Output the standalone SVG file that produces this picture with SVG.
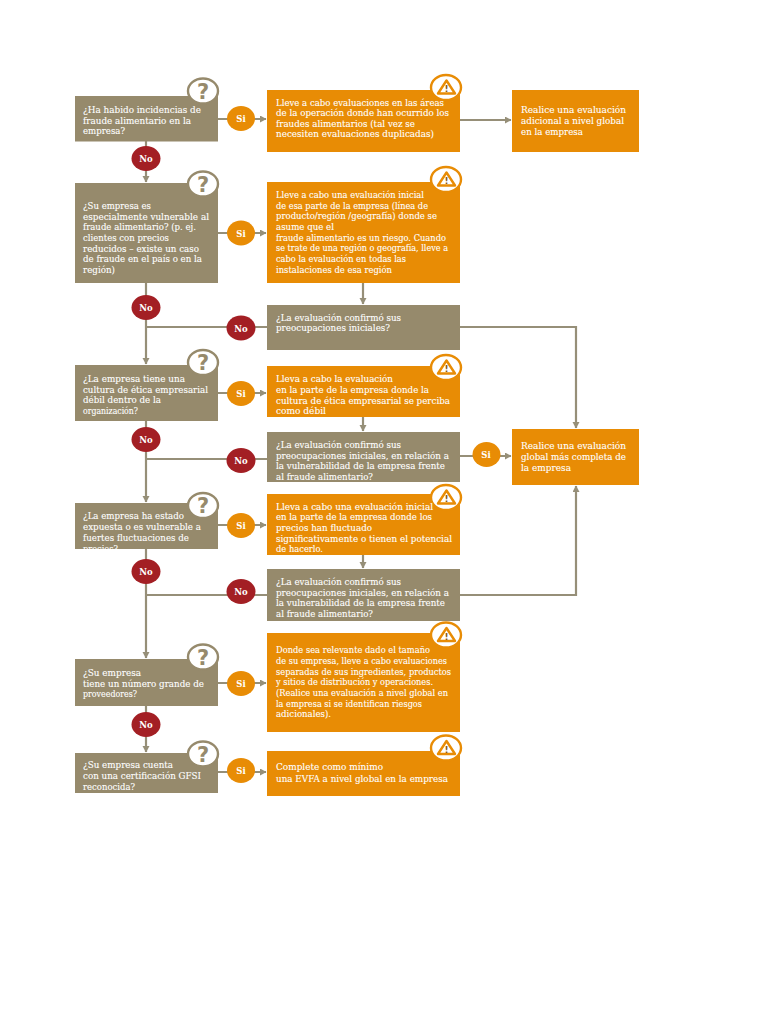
<svg xmlns="http://www.w3.org/2000/svg" width="768" height="1024" viewBox="0 0 768 1024">
<style>
text{font-family:"DejaVu Serif","Liberation Serif",serif}
.t{font-size:9.2px;fill:#fff;stroke:#fff;stroke-width:.12}
.g{fill:#968a6c}
.o{fill:#e88c05}
.c{fill:none;stroke:#968f78;stroke-width:2.2}
.si{fill:#e88c05}
.no{fill:#a31f24}
.l{font-size:8.5px;font-weight:bold;fill:#fff;text-anchor:middle}
.qc{fill:#fff;stroke:#968a6c;stroke-width:2.4}
.wc{fill:#fff;stroke:#e88c05;stroke-width:2.4}
.qm{font-family:"DejaVu Sans",sans-serif;font-size:21px;font-weight:bold;fill:#968a6c;text-anchor:middle}
.tri{fill:#fff;stroke:#e88c05;stroke-width:2.4;stroke-linejoin:round}
.ex{font-family:"DejaVu Sans",sans-serif;font-size:9px;font-weight:bold;fill:#8a5a10;text-anchor:middle}
</style>
<defs>
<marker id="a" markerWidth="8" markerHeight="8" refX="6" refY="3.5" orient="auto" markerUnits="userSpaceOnUse"><path d="M0 0L6.5 3.5L0 7z" fill="#968f78"/></marker>
<clipPath id="q4"><rect x="75" y="503" width="143" height="46"/></clipPath>
</defs>
<g id="connectors">
<path class="c" d="M218 119H266" marker-end="url(#a)"/>
<path class="c" d="M460 120H511" marker-end="url(#a)"/>
<path class="c" d="M146 141V182" marker-end="url(#a)"/>
<path class="c" d="M218 233H266" marker-end="url(#a)"/>
<path class="c" d="M363 283V304" marker-end="url(#a)"/>
<path class="c" d="M146 283V364" marker-end="url(#a)"/>
<path class="c" d="M146 327H267"/>
<path class="c" d="M460 327H576V428" marker-end="url(#a)"/>
<path class="c" d="M218 393H266" marker-end="url(#a)"/>
<path class="c" d="M363 417V431" marker-end="url(#a)"/>
<path class="c" d="M146 421V502" marker-end="url(#a)"/>
<path class="c" d="M146 459H267"/>
<path class="c" d="M460 456H511" marker-end="url(#a)"/>
<path class="c" d="M218 525H266" marker-end="url(#a)"/>
<path class="c" d="M363 555V568" marker-end="url(#a)"/>
<path class="c" d="M146 549V658" marker-end="url(#a)"/>
<path class="c" d="M146 595H267"/>
<path class="c" d="M460 595H576V486" marker-end="url(#a)"/>
<path class="c" d="M218 683H266" marker-end="url(#a)"/>
<path class="c" d="M146 706V752" marker-end="url(#a)"/>
<path class="c" d="M218 772H266" marker-end="url(#a)"/>
</g>
<g id="q1"><rect class="g" x="75" y="96" width="143" height="45.500"/><ellipse class="qc" cx="203" cy="91" rx="15" ry="12.500"/><text class="qm" x="203" y="98.500">?</text>
<text class="t" x="83" y="113" textLength="118" lengthAdjust="spacingAndGlyphs">¿Ha habido incidencias de</text>
<text class="t" x="83" y="124" textLength="108" lengthAdjust="spacingAndGlyphs">fraude alimentario en la</text>
<text class="t" x="83" y="134" textLength="42" lengthAdjust="spacingAndGlyphs">empresa?</text></g>
<g id="q2"><rect class="g" x="75" y="183" width="143" height="100"/><ellipse class="qc" cx="203" cy="184" rx="15" ry="12.500"/><text class="qm" x="203" y="191.500">?</text>
<text class="t" x="83" y="209" textLength="68" lengthAdjust="spacingAndGlyphs">¿Su empresa es</text>
<text class="t" x="83" y="220" textLength="126" lengthAdjust="spacingAndGlyphs">especialmente vulnerable al</text>
<text class="t" x="83" y="230" textLength="113" lengthAdjust="spacingAndGlyphs">fraude alimentario? (p. ej.</text>
<text class="t" x="83" y="241" textLength="86" lengthAdjust="spacingAndGlyphs">clientes con precios</text>
<text class="t" x="83" y="252" textLength="116" lengthAdjust="spacingAndGlyphs">reducidos – existe un caso</text>
<text class="t" x="83" y="262" textLength="119" lengthAdjust="spacingAndGlyphs">de fraude en el país o en la</text>
<text class="t" x="83" y="273" textLength="32" lengthAdjust="spacingAndGlyphs">región)</text></g>
<g id="q3"><rect class="g" x="75" y="365" width="143" height="56"/><ellipse class="qc" cx="203" cy="362.500" rx="15" ry="12.500"/><text class="qm" x="203" y="370">?</text>
<text class="t" x="83" y="382" textLength="102" lengthAdjust="spacingAndGlyphs">¿La empresa tiene una</text>
<text class="t" x="83" y="393" textLength="125" lengthAdjust="spacingAndGlyphs">cultura de ética empresarial</text>
<text class="t" x="83" y="403" textLength="78" lengthAdjust="spacingAndGlyphs">débil dentro de la</text>
<text class="t" x="83" y="414" textLength="55" lengthAdjust="spacingAndGlyphs">organización?</text></g>
<g id="q4n"><rect class="g" x="75" y="503" width="143" height="46"/><ellipse class="qc" cx="203" cy="505.500" rx="15" ry="12.500"/><text class="qm" x="203" y="513">?</text>
<g clip-path="url(#q4)"><text class="t" x="83" y="519" textLength="101" lengthAdjust="spacingAndGlyphs">¿La empresa ha estado</text>
<text class="t" x="83" y="530" textLength="118" lengthAdjust="spacingAndGlyphs">expuesta o es vulnerable a</text>
<text class="t" x="83" y="541" textLength="106" lengthAdjust="spacingAndGlyphs">fuertes fluctuaciones de</text>
<text class="t" x="83" y="552" textLength="35" lengthAdjust="spacingAndGlyphs">precios?</text></g></g>
<g id="q5"><rect class="g" x="75" y="659" width="143" height="47"/><ellipse class="qc" cx="203" cy="657" rx="15" ry="12.500"/><text class="qm" x="203" y="664.500">?</text>
<text class="t" x="83" y="676" textLength="58" lengthAdjust="spacingAndGlyphs">¿Su empresa</text>
<text class="t" x="83" y="687" textLength="121" lengthAdjust="spacingAndGlyphs">tiene un número grande de</text>
<text class="t" x="83" y="697" textLength="54" lengthAdjust="spacingAndGlyphs">proveedores?</text></g>
<g id="q6"><rect class="g" x="75" y="753" width="143" height="40"/><ellipse class="qc" cx="203" cy="754" rx="15" ry="12.500"/><text class="qm" x="203" y="761.500">?</text>
<text class="t" x="83" y="768" textLength="90" lengthAdjust="spacingAndGlyphs">¿Su empresa cuenta</text>
<text class="t" x="83" y="779" textLength="118" lengthAdjust="spacingAndGlyphs">con una certificación GFSI</text>
<text class="t" x="83" y="790" textLength="52" lengthAdjust="spacingAndGlyphs">reconocida?</text></g>
<g id="a1"><rect class="o" x="267" y="90" width="193" height="62"/><ellipse class="wc" cx="446" cy="87.500" rx="15" ry="12.500"/><path class="tri" d="M446.500 80.500L455 93.500H438z"/><text class="ex" x="446.500" y="92">!</text>
<text class="t" x="276" y="106" textLength="168" lengthAdjust="spacingAndGlyphs">Lleve a cabo evaluaciones en las áreas</text>
<text class="t" x="276" y="116" textLength="173" lengthAdjust="spacingAndGlyphs">de la operación donde han ocurrido los</text>
<text class="t" x="276" y="127" textLength="139" lengthAdjust="spacingAndGlyphs">fraudes alimentarios (tal vez se</text>
<text class="t" x="276" y="137" textLength="158" lengthAdjust="spacingAndGlyphs">necesiten evaluaciones duplicadas)</text></g>
<g id="r1"><rect class="o" x="512" y="90" width="127" height="62"/>
<text class="t" x="521" y="113" textLength="105" lengthAdjust="spacingAndGlyphs">Realice una evaluación</text>
<text class="t" x="521" y="124" textLength="103" lengthAdjust="spacingAndGlyphs">adicional a nivel global</text>
<text class="t" x="521" y="135" textLength="62" lengthAdjust="spacingAndGlyphs">en la empresa</text></g>
<g id="a2"><rect class="o" x="267" y="182" width="193" height="101"/><ellipse class="wc" cx="446" cy="179.500" rx="15" ry="12.500"/><path class="tri" d="M446.500 172.500L455 185.500H438z"/><text class="ex" x="446.500" y="184">!</text>
<text class="t" x="276" y="198" textLength="148" lengthAdjust="spacingAndGlyphs">Lleve a cabo una evaluación inicial</text>
<text class="t" x="276" y="209" textLength="152" lengthAdjust="spacingAndGlyphs">de esa parte de la empresa (línea de</text>
<text class="t" x="276" y="219" textLength="161" lengthAdjust="spacingAndGlyphs">producto/región /geografía) donde se</text>
<text class="t" x="276" y="230" textLength="58" lengthAdjust="spacingAndGlyphs">asume que el</text>
<text class="t" x="276" y="241" textLength="170" lengthAdjust="spacingAndGlyphs">fraude alimentario es un riesgo. Cuando</text>
<text class="t" x="276" y="251" textLength="172" lengthAdjust="spacingAndGlyphs">se trate de una región o geografía, lleve a</text>
<text class="t" x="276" y="262" textLength="130" lengthAdjust="spacingAndGlyphs">cabo la evaluación en todas las</text>
<text class="t" x="276" y="273" textLength="116" lengthAdjust="spacingAndGlyphs">instalaciones de esa región</text></g>
<g id="b1"><rect class="g" x="267" y="305" width="193" height="45"/>
<text class="t" x="276" y="321" textLength="125" lengthAdjust="spacingAndGlyphs">¿La evaluación confirmó sus</text>
<text class="t" x="276" y="331" textLength="114" lengthAdjust="spacingAndGlyphs">preocupaciones iniciales?</text></g>
<g id="a3"><rect class="o" x="267" y="366" width="193" height="51"/><ellipse class="wc" cx="446" cy="367.500" rx="15" ry="12.500"/><path class="tri" d="M446.500 360.500L455 373.500H438z"/><text class="ex" x="446.500" y="372">!</text>
<text class="t" x="276" y="382" textLength="117" lengthAdjust="spacingAndGlyphs">Lleva a cabo la evaluación</text>
<text class="t" x="276" y="393" textLength="153" lengthAdjust="spacingAndGlyphs">en la parte de la empresa donde la</text>
<text class="t" x="276" y="404" textLength="174" lengthAdjust="spacingAndGlyphs">cultura de ética empresarial se perciba</text>
<text class="t" x="276" y="414" textLength="50" lengthAdjust="spacingAndGlyphs">como débil</text></g>
<g id="b2"><rect class="g" x="267" y="432" width="193" height="50"/>
<text class="t" x="276" y="448" textLength="125" lengthAdjust="spacingAndGlyphs">¿La evaluación confirmó sus</text>
<text class="t" x="276" y="459" textLength="173" lengthAdjust="spacingAndGlyphs">preocupaciones iniciales, en relación a</text>
<text class="t" x="276" y="469" textLength="169" lengthAdjust="spacingAndGlyphs">la vulnerabilidad de la empresa frente</text>
<text class="t" x="276" y="480" textLength="97" lengthAdjust="spacingAndGlyphs">al fraude alimentario?</text></g>
<g id="r2"><rect class="o" x="512" y="429" width="127" height="56"/>
<text class="t" x="521" y="449" textLength="105" lengthAdjust="spacingAndGlyphs">Realice una evaluación</text>
<text class="t" x="521" y="460" textLength="105" lengthAdjust="spacingAndGlyphs">global más completa de</text>
<text class="t" x="521" y="471" textLength="50" lengthAdjust="spacingAndGlyphs">la empresa</text></g>
<g id="a4"><rect class="o" x="267" y="494" width="193" height="61"/><ellipse class="wc" cx="446" cy="497.500" rx="15" ry="12.500"/><path class="tri" d="M446.500 490.500L455 503.500H438z"/><text class="ex" x="446.500" y="502">!</text>
<text class="t" x="276" y="510" textLength="157" lengthAdjust="spacingAndGlyphs">Lleva a cabo una evaluación inicial</text>
<text class="t" x="276" y="520" textLength="156" lengthAdjust="spacingAndGlyphs">en la parte de la empresa donde los</text>
<text class="t" x="276" y="531" textLength="96" lengthAdjust="spacingAndGlyphs">precios han fluctuado</text>
<text class="t" x="276" y="542" textLength="176" lengthAdjust="spacingAndGlyphs">significativamente o tienen el potencial</text>
<text class="t" x="276" y="552" textLength="47" lengthAdjust="spacingAndGlyphs">de hacerlo.</text></g>
<g id="b3"><rect class="g" x="267" y="569" width="193" height="52"/>
<text class="t" x="276" y="585" textLength="125" lengthAdjust="spacingAndGlyphs">¿La evaluación confirmó sus</text>
<text class="t" x="276" y="596" textLength="173" lengthAdjust="spacingAndGlyphs">preocupaciones iniciales, en relación a</text>
<text class="t" x="276" y="606" textLength="169" lengthAdjust="spacingAndGlyphs">la vulnerabilidad de la empresa frente</text>
<text class="t" x="276" y="617" textLength="97" lengthAdjust="spacingAndGlyphs">al fraude alimentario?</text></g>
<g id="a5"><rect class="o" x="267" y="633" width="193" height="99"/><ellipse class="wc" cx="446" cy="635" rx="15" ry="12.500"/><path class="tri" d="M446.500 628L455 641H438z"/><text class="ex" x="446.500" y="639.500">!</text>
<text class="t" x="276" y="653" textLength="154" lengthAdjust="spacingAndGlyphs">Donde sea relevante dado el tamaño</text>
<text class="t" x="276" y="664" textLength="171" lengthAdjust="spacingAndGlyphs">de su empresa, lleve a cabo evaluaciones</text>
<text class="t" x="276" y="675" textLength="175" lengthAdjust="spacingAndGlyphs">separadas de sus ingredientes, productos</text>
<text class="t" x="276" y="685" textLength="157" lengthAdjust="spacingAndGlyphs">y sitios de distribución y operaciones.</text>
<text class="t" x="276" y="696" textLength="172" lengthAdjust="spacingAndGlyphs">(Realice una evaluación a nivel global en</text>
<text class="t" x="276" y="707" textLength="146" lengthAdjust="spacingAndGlyphs">la empresa si se identifican riesgos</text>
<text class="t" x="276" y="717" textLength="55" lengthAdjust="spacingAndGlyphs">adicionales).</text></g>
<g id="a6"><rect class="o" x="267" y="751" width="193" height="45"/><ellipse class="wc" cx="446" cy="748" rx="15" ry="12.500"/><path class="tri" d="M446.500 741L455 754H438z"/><text class="ex" x="446.500" y="752.500">!</text>
<text class="t" x="276" y="770" textLength="107" lengthAdjust="spacingAndGlyphs">Complete como mínimo</text>
<text class="t" x="276" y="782" textLength="172" lengthAdjust="spacingAndGlyphs">una EVFA a nivel global en la empresa</text></g>
<g id="si1"><ellipse class="si" cx="241" cy="118.500" rx="14" ry="12.500"/><text class="l" x="241" y="122">Si</text></g>
<g id="si2"><ellipse class="si" cx="241" cy="233" rx="14" ry="12.500"/><text class="l" x="241" y="236.500">Si</text></g>
<g id="si3"><ellipse class="si" cx="241" cy="393.500" rx="14" ry="12.500"/><text class="l" x="241" y="397">Si</text></g>
<g id="si4"><ellipse class="si" cx="241" cy="525.500" rx="14" ry="12.500"/><text class="l" x="241" y="529">Si</text></g>
<g id="si5"><ellipse class="si" cx="241" cy="683.500" rx="14" ry="12.500"/><text class="l" x="241" y="687">Si</text></g>
<g id="si6"><ellipse class="si" cx="241" cy="770.500" rx="14" ry="12.500"/><text class="l" x="241" y="774">Si</text></g>
<g id="si7"><ellipse class="si" cx="486.500" cy="454.500" rx="14" ry="12.500"/><text class="l" x="486" y="458">Si</text></g>
<g id="no1"><ellipse class="no" cx="146" cy="158.500" rx="14.500" ry="12.500"/><text class="l" x="146" y="162">No</text></g>
<g id="no2"><ellipse class="no" cx="146" cy="307.500" rx="14.500" ry="12.500"/><text class="l" x="146" y="311">No</text></g>
<g id="no3"><ellipse class="no" cx="146" cy="439.500" rx="14.500" ry="12.500"/><text class="l" x="146" y="443">No</text></g>
<g id="no4"><ellipse class="no" cx="146" cy="571.500" rx="14.500" ry="12.500"/><text class="l" x="146" y="575">No</text></g>
<g id="no5"><ellipse class="no" cx="146" cy="724.500" rx="14.500" ry="12.500"/><text class="l" x="146" y="728">No</text></g>
<g id="no6"><ellipse class="no" cx="241" cy="328" rx="14.500" ry="12.500"/><text class="l" x="241" y="331.500">No</text></g>
<g id="no7"><ellipse class="no" cx="241" cy="460.500" rx="14.500" ry="12.500"/><text class="l" x="241" y="464">No</text></g>
<g id="no8"><ellipse class="no" cx="241" cy="591.500" rx="14.500" ry="12.500"/><text class="l" x="241" y="595">No</text></g>
</svg>
